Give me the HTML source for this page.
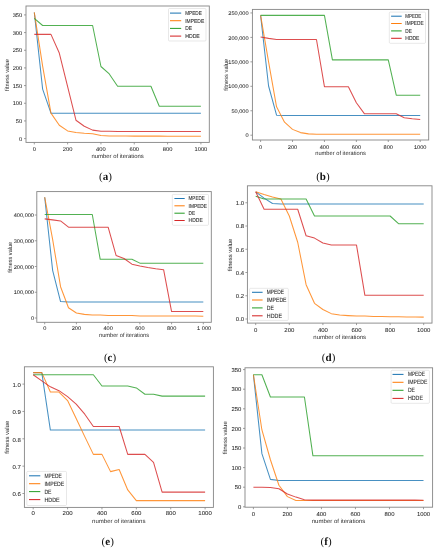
<!DOCTYPE html>
<html><head><meta charset="utf-8"><style>
html,body{margin:0;padding:0;background:#fff;}
body{width:436px;height:550px;overflow:hidden;}
svg{display:block;text-rendering:geometricPrecision;will-change:transform;filter:blur(0.35px);}
.t{font-family:"Liberation Sans",sans-serif;font-size:5.5px;fill:#2b2b2b;stroke:#2b2b2b;stroke-width:0.06px;}
.l{font-family:"Liberation Sans",sans-serif;font-size:5.9px;fill:#2b2b2b;}
.g{font-family:"Liberation Sans",sans-serif;font-size:5.9px;fill:#2b2b2b;stroke:#2b2b2b;stroke-width:0.08px;}
.c{font-family:"Liberation Serif",serif;font-size:11px;fill:#111;}
</style></head><body>
<svg width="436" height="550" viewBox="0 0 436 550">
<rect width="436" height="550" fill="#fff"/>
<g><clipPath id="clipa"><rect x="26" y="6" width="183.3" height="136.4"/></clipPath><polyline clip-path="url(#clipa)" points="34.3,12.44 42.63,89.12 50.96,113.16 200.9,113.16" fill="none" stroke="#1f77b4" stroke-width="1.05" stroke-linejoin="round" stroke-linecap="butt" stroke-opacity="0.82"/><polyline clip-path="url(#clipa)" points="34.3,12.44 42.63,66.15 50.96,113.16 59.29,125.31 67.62,130.9 75.95,132.59 84.28,133.3 92.61,133.65 100.94,135.6 109.27,135.95 117.6,136.06 125.93,136.06 134.26,136.13 159.25,136.13 167.58,136.27 192.57,136.27 200.9,136.3" fill="none" stroke="#ff7f0e" stroke-width="1.05" stroke-linejoin="round" stroke-linecap="butt" stroke-opacity="0.82"/><polyline clip-path="url(#clipa)" points="34.3,18.44 42.63,25.51 92.61,25.51 100.94,66.51 109.27,73.93 117.6,86.3 150.92,86.3 159.25,106.26 200.9,106.26" fill="none" stroke="#2ca02c" stroke-width="1.05" stroke-linejoin="round" stroke-linecap="butt" stroke-opacity="0.82"/><polyline clip-path="url(#clipa)" points="34.3,34.35 50.96,34.35 59.29,53.08 67.62,86.65 75.95,120.22 84.28,126.23 92.61,130.12 100.94,131.32 109.27,131.32 117.6,131.53 200.9,131.53" fill="none" stroke="#d62728" stroke-width="1.05" stroke-linejoin="round" stroke-linecap="butt" stroke-opacity="0.82"/><rect x="26" y="6" width="183.3" height="136.4" fill="none" stroke="#858585" stroke-width="0.9"/><line x1="24" y1="138.6" x2="26" y2="138.6" stroke="#858585" stroke-width="0.8"/><text transform="translate(22.3,140.8) scale(1.05,1)" text-anchor="end" class="t">0</text><line x1="24" y1="120.93" x2="26" y2="120.93" stroke="#858585" stroke-width="0.8"/><text transform="translate(22.3,123.13) scale(1.05,1)" text-anchor="end" class="t">50</text><line x1="24" y1="103.26" x2="26" y2="103.26" stroke="#858585" stroke-width="0.8"/><text transform="translate(22.3,105.46) scale(1.05,1)" text-anchor="end" class="t">100</text><line x1="24" y1="85.59" x2="26" y2="85.59" stroke="#858585" stroke-width="0.8"/><text transform="translate(22.3,87.79) scale(1.05,1)" text-anchor="end" class="t">150</text><line x1="24" y1="67.92" x2="26" y2="67.92" stroke="#858585" stroke-width="0.8"/><text transform="translate(22.3,70.12) scale(1.05,1)" text-anchor="end" class="t">200</text><line x1="24" y1="50.25" x2="26" y2="50.25" stroke="#858585" stroke-width="0.8"/><text transform="translate(22.3,52.45) scale(1.05,1)" text-anchor="end" class="t">250</text><line x1="24" y1="32.58" x2="26" y2="32.58" stroke="#858585" stroke-width="0.8"/><text transform="translate(22.3,34.78) scale(1.05,1)" text-anchor="end" class="t">300</text><line x1="24" y1="14.91" x2="26" y2="14.91" stroke="#858585" stroke-width="0.8"/><text transform="translate(22.3,17.11) scale(1.05,1)" text-anchor="end" class="t">350</text><line x1="34.3" y1="142.4" x2="34.3" y2="144.4" stroke="#858585" stroke-width="0.8"/><text transform="translate(34.3,150.9) scale(1.05,1)" text-anchor="middle" class="t">0</text><line x1="67.62" y1="142.4" x2="67.62" y2="144.4" stroke="#858585" stroke-width="0.8"/><text transform="translate(67.62,150.9) scale(1.05,1)" text-anchor="middle" class="t">200</text><line x1="100.94" y1="142.4" x2="100.94" y2="144.4" stroke="#858585" stroke-width="0.8"/><text transform="translate(100.94,150.9) scale(1.05,1)" text-anchor="middle" class="t">400</text><line x1="134.26" y1="142.4" x2="134.26" y2="144.4" stroke="#858585" stroke-width="0.8"/><text transform="translate(134.26,150.9) scale(1.05,1)" text-anchor="middle" class="t">600</text><line x1="167.58" y1="142.4" x2="167.58" y2="144.4" stroke="#858585" stroke-width="0.8"/><text transform="translate(167.58,150.9) scale(1.05,1)" text-anchor="middle" class="t">800</text><line x1="200.9" y1="142.4" x2="200.9" y2="144.4" stroke="#858585" stroke-width="0.8"/><text transform="translate(200.9,150.9) scale(1.05,1)" text-anchor="middle" class="t">1000</text><text x="117.6" y="158.2" text-anchor="middle" class="l" textLength="52.3" lengthAdjust="spacingAndGlyphs">number of iterations</text><text transform="translate(9.3,75) rotate(-90)" x="0" y="0" text-anchor="middle" class="l" textLength="32.0" lengthAdjust="spacingAndGlyphs">fitness value</text><rect x="168.5" y="8.5" width="37.5" height="32.5" rx="1" fill="#fff" fill-opacity="0.8" stroke="#d8d8d8" stroke-width="0.6"/><line x1="170" y1="13.1" x2="181.2" y2="13.1" stroke="#1f77b4" stroke-width="1.05"/><text x="185.2" y="15.1" class="g" style="font-size:5.9px" textLength="16.6" lengthAdjust="spacingAndGlyphs">MPEDE</text><line x1="170" y1="20.7" x2="181.2" y2="20.7" stroke="#ff7f0e" stroke-width="1.05"/><text x="185.2" y="22.7" class="g" style="font-size:5.9px" textLength="19" lengthAdjust="spacingAndGlyphs">IMPEDE</text><line x1="170" y1="28.4" x2="181.2" y2="28.4" stroke="#2ca02c" stroke-width="1.05"/><text x="185.2" y="30.4" class="g" style="font-size:5.9px" textLength="6.8" lengthAdjust="spacingAndGlyphs">DE</text><line x1="170" y1="36.1" x2="181.2" y2="36.1" stroke="#d62728" stroke-width="1.05"/><text x="185.2" y="38.1" class="g" style="font-size:5.9px" textLength="14.6" lengthAdjust="spacingAndGlyphs">HDDE</text><text x="105.5" y="179.8" text-anchor="middle" class="c">(<tspan font-weight="bold">a</tspan>)</text></g>
<g><clipPath id="clipb"><rect x="252.4" y="9.4" width="176.3" height="130.6"/></clipPath><polyline clip-path="url(#clipb)" points="260.6,15.39 268.58,86.01 276.56,115.15 284.54,115.4 420.2,115.4" fill="none" stroke="#1f77b4" stroke-width="1.05" stroke-linejoin="round" stroke-linecap="butt" stroke-opacity="0.82"/><polyline clip-path="url(#clipb)" points="260.6,15.39 268.58,61.85 276.56,106.84 284.54,122.19 292.52,129.38 300.5,132.61 308.48,133.88 316.46,134.22 332.42,134.22 340.4,134.27 412.22,134.27 420.2,134.32" fill="none" stroke="#ff7f0e" stroke-width="1.05" stroke-linejoin="round" stroke-linecap="butt" stroke-opacity="0.82"/><polyline clip-path="url(#clipb)" points="260.6,15.39 324.44,15.39 332.42,59.89 388.28,59.89 396.26,95.2 420.2,95.2" fill="none" stroke="#2ca02c" stroke-width="1.05" stroke-linejoin="round" stroke-linecap="butt" stroke-opacity="0.82"/><polyline clip-path="url(#clipb)" points="260.6,37.01 268.58,38.38 276.56,39.5 316.46,39.5 324.44,86.69 348.38,86.69 356.36,102.78 364.34,113.68 396.26,113.68 404.24,117.79 412.22,118.82 420.2,119.41" fill="none" stroke="#d62728" stroke-width="1.05" stroke-linejoin="round" stroke-linecap="butt" stroke-opacity="0.82"/><rect x="252.4" y="9.4" width="176.3" height="130.6" fill="none" stroke="#858585" stroke-width="0.9"/><line x1="250.4" y1="135.2" x2="252.4" y2="135.2" stroke="#858585" stroke-width="0.8"/><text transform="translate(248.6,137.34) scale(1.02,0.97)" text-anchor="end" class="t">0</text><line x1="250.4" y1="110.75" x2="252.4" y2="110.75" stroke="#858585" stroke-width="0.8"/><text transform="translate(248.6,112.89) scale(1.02,0.97)" text-anchor="end" class="t">50,000</text><line x1="250.4" y1="86.3" x2="252.4" y2="86.3" stroke="#858585" stroke-width="0.8"/><text transform="translate(248.6,88.44) scale(1.02,0.97)" text-anchor="end" class="t">100,000</text><line x1="250.4" y1="61.85" x2="252.4" y2="61.85" stroke="#858585" stroke-width="0.8"/><text transform="translate(248.6,63.99) scale(1.02,0.97)" text-anchor="end" class="t">150,000</text><line x1="250.4" y1="37.4" x2="252.4" y2="37.4" stroke="#858585" stroke-width="0.8"/><text transform="translate(248.6,39.54) scale(1.02,0.97)" text-anchor="end" class="t">200,000</text><line x1="250.4" y1="12.95" x2="252.4" y2="12.95" stroke="#858585" stroke-width="0.8"/><text transform="translate(248.6,15.09) scale(1.02,0.97)" text-anchor="end" class="t">250,000</text><line x1="260.6" y1="140" x2="260.6" y2="142" stroke="#858585" stroke-width="0.8"/><text transform="translate(260.6,148.8) scale(1.02,0.97)" text-anchor="middle" class="t">0</text><line x1="292.52" y1="140" x2="292.52" y2="142" stroke="#858585" stroke-width="0.8"/><text transform="translate(292.52,148.8) scale(1.02,0.97)" text-anchor="middle" class="t">200</text><line x1="324.44" y1="140" x2="324.44" y2="142" stroke="#858585" stroke-width="0.8"/><text transform="translate(324.44,148.8) scale(1.02,0.97)" text-anchor="middle" class="t">400</text><line x1="356.36" y1="140" x2="356.36" y2="142" stroke="#858585" stroke-width="0.8"/><text transform="translate(356.36,148.8) scale(1.02,0.97)" text-anchor="middle" class="t">600</text><line x1="388.28" y1="140" x2="388.28" y2="142" stroke="#858585" stroke-width="0.8"/><text transform="translate(388.28,148.8) scale(1.02,0.97)" text-anchor="middle" class="t">800</text><line x1="420.2" y1="140" x2="420.2" y2="142" stroke="#858585" stroke-width="0.8"/><text transform="translate(420.2,148.8) scale(1.02,0.97)" text-anchor="middle" class="t">1000</text><text x="340.5" y="155.2" text-anchor="middle" class="l" textLength="50.5" lengthAdjust="spacingAndGlyphs">number of iterations</text><text transform="translate(227.6,74.7) rotate(-90)" x="0" y="0" text-anchor="middle" class="l" textLength="32.0" lengthAdjust="spacingAndGlyphs">fitness value</text><rect x="389.3" y="12.1" width="36.2" height="31.2" rx="1" fill="#fff" fill-opacity="0.8" stroke="#d8d8d8" stroke-width="0.6"/><line x1="391.1" y1="16.2" x2="401.7" y2="16.2" stroke="#1f77b4" stroke-width="1.05"/><text x="405.3" y="18.14" class="g" style="font-size:5.72px" textLength="16.1" lengthAdjust="spacingAndGlyphs">MPEDE</text><line x1="391.1" y1="23.5" x2="401.7" y2="23.5" stroke="#ff7f0e" stroke-width="1.05"/><text x="405.3" y="25.44" class="g" style="font-size:5.72px" textLength="18.43" lengthAdjust="spacingAndGlyphs">IMPEDE</text><line x1="391.1" y1="30.9" x2="401.7" y2="30.9" stroke="#2ca02c" stroke-width="1.05"/><text x="405.3" y="32.84" class="g" style="font-size:5.72px" textLength="6.6" lengthAdjust="spacingAndGlyphs">DE</text><line x1="391.1" y1="38.3" x2="401.7" y2="38.3" stroke="#d62728" stroke-width="1.05"/><text x="405.3" y="40.24" class="g" style="font-size:5.72px" textLength="14.16" lengthAdjust="spacingAndGlyphs">HDDE</text><text x="322.9" y="179.6" text-anchor="middle" class="c">(<tspan font-weight="bold">b</tspan>)</text></g>
<g><clipPath id="clipc"><rect x="36.8" y="191.6" width="174.5" height="130.7"/></clipPath><polyline clip-path="url(#clipc)" points="44.7,197.23 52.63,270.36 60.56,301.6 68.49,302.04 203.3,302.04" fill="none" stroke="#1f77b4" stroke-width="1.05" stroke-linejoin="round" stroke-linecap="butt" stroke-opacity="0.82"/><polyline clip-path="url(#clipc)" points="44.7,197.23 52.63,239.46 60.56,286.71 68.49,307.8 76.42,313 84.35,314.39 92.28,314.91 100.21,314.91 108.14,315.55 131.93,315.55 139.86,315.94 195.37,315.94 203.3,316.2" fill="none" stroke="#ff7f0e" stroke-width="1.05" stroke-linejoin="round" stroke-linecap="butt" stroke-opacity="0.82"/><polyline clip-path="url(#clipc)" points="44.7,214.48 92.28,214.48 100.21,259.29 131.93,259.29 139.86,263.15 203.3,263.15" fill="none" stroke="#2ca02c" stroke-width="1.05" stroke-linejoin="round" stroke-linecap="butt" stroke-opacity="0.82"/><polyline clip-path="url(#clipc)" points="44.7,218.86 52.63,219.89 60.56,220.92 68.49,227.21 108.14,227.21 116.07,255.43 124,258.52 131.93,264.18 139.86,265.99 147.79,267.53 155.72,268.82 163.65,269.85 171.58,311.56 203.3,311.56" fill="none" stroke="#d62728" stroke-width="1.05" stroke-linejoin="round" stroke-linecap="butt" stroke-opacity="0.82"/><rect x="36.8" y="191.6" width="174.5" height="130.7" fill="none" stroke="#858585" stroke-width="0.9"/><line x1="34.8" y1="318" x2="36.8" y2="318" stroke="#858585" stroke-width="0.8"/><text transform="translate(34,320.14) scale(1.02,0.97)" text-anchor="end" class="t">0</text><line x1="34.8" y1="292.25" x2="36.8" y2="292.25" stroke="#858585" stroke-width="0.8"/><text transform="translate(34,294.39) scale(1.02,0.97)" text-anchor="end" class="t">100,000</text><line x1="34.8" y1="266.5" x2="36.8" y2="266.5" stroke="#858585" stroke-width="0.8"/><text transform="translate(34,268.64) scale(1.02,0.97)" text-anchor="end" class="t">200,000</text><line x1="34.8" y1="240.75" x2="36.8" y2="240.75" stroke="#858585" stroke-width="0.8"/><text transform="translate(34,242.89) scale(1.02,0.97)" text-anchor="end" class="t">300,000</text><line x1="34.8" y1="215" x2="36.8" y2="215" stroke="#858585" stroke-width="0.8"/><text transform="translate(34,217.14) scale(1.02,0.97)" text-anchor="end" class="t">400,000</text><line x1="44.7" y1="322.3" x2="44.7" y2="324.3" stroke="#858585" stroke-width="0.8"/><text transform="translate(44.7,329.6) scale(1.02,0.97)" text-anchor="middle" class="t">0</text><line x1="76.42" y1="322.3" x2="76.42" y2="324.3" stroke="#858585" stroke-width="0.8"/><text transform="translate(76.42,329.6) scale(1.02,0.97)" text-anchor="middle" class="t">200</text><line x1="108.14" y1="322.3" x2="108.14" y2="324.3" stroke="#858585" stroke-width="0.8"/><text transform="translate(108.14,329.6) scale(1.02,0.97)" text-anchor="middle" class="t">400</text><line x1="139.86" y1="322.3" x2="139.86" y2="324.3" stroke="#858585" stroke-width="0.8"/><text transform="translate(139.86,329.6) scale(1.02,0.97)" text-anchor="middle" class="t">600</text><line x1="171.58" y1="322.3" x2="171.58" y2="324.3" stroke="#858585" stroke-width="0.8"/><text transform="translate(171.58,329.6) scale(1.02,0.97)" text-anchor="middle" class="t">800</text><line x1="203.3" y1="322.3" x2="203.3" y2="324.3" stroke="#858585" stroke-width="0.8"/><text transform="translate(204.1,329.6) scale(1.02,0.97)" text-anchor="middle" class="t">1 000</text><text x="124" y="337.3" text-anchor="middle" class="l" textLength="50.0" lengthAdjust="spacingAndGlyphs">number of iterations</text><text transform="translate(12,257.3) rotate(-90)" x="0" y="0" text-anchor="middle" class="l" textLength="30.8" lengthAdjust="spacingAndGlyphs">fitness value</text><rect x="172.3" y="194.4" width="36.2" height="30.9" rx="1" fill="#fff" fill-opacity="0.8" stroke="#d8d8d8" stroke-width="0.6"/><line x1="174.4" y1="198.5" x2="184.7" y2="198.5" stroke="#1f77b4" stroke-width="1.05"/><text x="188.6" y="200.44" class="g" style="font-size:5.72px" textLength="16.1" lengthAdjust="spacingAndGlyphs">MPEDE</text><line x1="174.4" y1="205.8" x2="184.7" y2="205.8" stroke="#ff7f0e" stroke-width="1.05"/><text x="188.6" y="207.74" class="g" style="font-size:5.72px" textLength="18.43" lengthAdjust="spacingAndGlyphs">IMPEDE</text><line x1="174.4" y1="213.2" x2="184.7" y2="213.2" stroke="#2ca02c" stroke-width="1.05"/><text x="188.6" y="215.14" class="g" style="font-size:5.72px" textLength="6.6" lengthAdjust="spacingAndGlyphs">DE</text><line x1="174.4" y1="220.5" x2="184.7" y2="220.5" stroke="#d62728" stroke-width="1.05"/><text x="188.6" y="222.44" class="g" style="font-size:5.72px" textLength="14.16" lengthAdjust="spacingAndGlyphs">HDDE</text><text x="110" y="360.6" text-anchor="middle" class="c">(<tspan font-weight="bold">c</tspan>)</text></g>
<g><clipPath id="clipd"><rect x="247.4" y="185.8" width="184.6" height="137.3"/></clipPath><polyline clip-path="url(#clipd)" points="255.7,191.82 264.1,198.1 272.5,203.56 280.9,203.91 423.7,203.91" fill="none" stroke="#1f77b4" stroke-width="1.05" stroke-linejoin="round" stroke-linecap="butt" stroke-opacity="0.82"/><polyline clip-path="url(#clipd)" points="255.7,191.82 264.1,194.61 272.5,196.94 280.9,199.03 289.3,216 297.7,242.27 306.1,284.71 314.5,303.31 322.9,309.47 331.3,313.65 339.7,315.05 348.1,315.63 356.5,316.09 364.9,316.09 373.3,316.44 381.7,316.44 390.1,316.68 398.5,316.68 406.9,317.02 415.3,317.02 423.7,317.14" fill="none" stroke="#ff7f0e" stroke-width="1.05" stroke-linejoin="round" stroke-linecap="butt" stroke-opacity="0.82"/><polyline clip-path="url(#clipd)" points="255.7,196.36 264.1,199.03 306.1,199.03 314.5,216 390.1,216 398.5,223.68 423.7,223.68" fill="none" stroke="#2ca02c" stroke-width="1.05" stroke-linejoin="round" stroke-linecap="butt" stroke-opacity="0.82"/><polyline clip-path="url(#clipd)" points="255.7,191.82 264.1,209.26 297.7,209.26 306.1,235.76 314.5,238.09 322.9,242.97 331.3,245.06 356.5,245.06 364.9,295.29 423.7,295.29" fill="none" stroke="#d62728" stroke-width="1.05" stroke-linejoin="round" stroke-linecap="butt" stroke-opacity="0.82"/><rect x="247.4" y="185.8" width="184.6" height="137.3" fill="none" stroke="#858585" stroke-width="0.9"/><line x1="245.4" y1="319" x2="247.4" y2="319" stroke="#858585" stroke-width="0.8"/><text transform="translate(244.2,321.28) scale(1.09,1.04)" text-anchor="end" class="t">0.0</text><line x1="245.4" y1="295.75" x2="247.4" y2="295.75" stroke="#858585" stroke-width="0.8"/><text transform="translate(244.2,298.03) scale(1.09,1.04)" text-anchor="end" class="t">0.2</text><line x1="245.4" y1="272.5" x2="247.4" y2="272.5" stroke="#858585" stroke-width="0.8"/><text transform="translate(244.2,274.78) scale(1.09,1.04)" text-anchor="end" class="t">0.4</text><line x1="245.4" y1="249.25" x2="247.4" y2="249.25" stroke="#858585" stroke-width="0.8"/><text transform="translate(244.2,251.53) scale(1.09,1.04)" text-anchor="end" class="t">0.6</text><line x1="245.4" y1="226" x2="247.4" y2="226" stroke="#858585" stroke-width="0.8"/><text transform="translate(244.2,228.28) scale(1.09,1.04)" text-anchor="end" class="t">0.8</text><line x1="245.4" y1="202.75" x2="247.4" y2="202.75" stroke="#858585" stroke-width="0.8"/><text transform="translate(244.2,205.03) scale(1.09,1.04)" text-anchor="end" class="t">1.0</text><line x1="255.7" y1="323.1" x2="255.7" y2="325.1" stroke="#858585" stroke-width="0.8"/><text transform="translate(255.7,331.8) scale(1.09,1.04)" text-anchor="middle" class="t">0</text><line x1="289.3" y1="323.1" x2="289.3" y2="325.1" stroke="#858585" stroke-width="0.8"/><text transform="translate(289.3,331.8) scale(1.09,1.04)" text-anchor="middle" class="t">200</text><line x1="322.9" y1="323.1" x2="322.9" y2="325.1" stroke="#858585" stroke-width="0.8"/><text transform="translate(322.9,331.8) scale(1.09,1.04)" text-anchor="middle" class="t">400</text><line x1="356.5" y1="323.1" x2="356.5" y2="325.1" stroke="#858585" stroke-width="0.8"/><text transform="translate(356.5,331.8) scale(1.09,1.04)" text-anchor="middle" class="t">600</text><line x1="390.1" y1="323.1" x2="390.1" y2="325.1" stroke="#858585" stroke-width="0.8"/><text transform="translate(390.1,331.8) scale(1.09,1.04)" text-anchor="middle" class="t">800</text><line x1="423.7" y1="323.1" x2="423.7" y2="325.1" stroke="#858585" stroke-width="0.8"/><text transform="translate(423.7,331.8) scale(1.09,1.04)" text-anchor="middle" class="t">1000</text><text x="339.7" y="338.6" text-anchor="middle" class="l" textLength="52.7" lengthAdjust="spacingAndGlyphs">number of iterations</text><text transform="translate(232.3,255) rotate(-90)" x="0" y="0" text-anchor="middle" class="l" textLength="32.7" lengthAdjust="spacingAndGlyphs">fitness value</text><rect x="249.6" y="288.3" width="38.7" height="32.1" rx="1" fill="#fff" fill-opacity="0.8" stroke="#d8d8d8" stroke-width="0.6"/><line x1="252" y1="292.3" x2="262.6" y2="292.3" stroke="#1f77b4" stroke-width="1.05"/><text x="266.8" y="294.38" class="g" style="font-size:6.14px" textLength="17.26" lengthAdjust="spacingAndGlyphs">MPEDE</text><line x1="252" y1="300" x2="262.6" y2="300" stroke="#ff7f0e" stroke-width="1.05"/><text x="266.8" y="302.08" class="g" style="font-size:6.14px" textLength="19.76" lengthAdjust="spacingAndGlyphs">IMPEDE</text><line x1="252" y1="307.9" x2="262.6" y2="307.9" stroke="#2ca02c" stroke-width="1.05"/><text x="266.8" y="309.98" class="g" style="font-size:6.14px" textLength="7.07" lengthAdjust="spacingAndGlyphs">DE</text><line x1="252" y1="315.8" x2="262.6" y2="315.8" stroke="#d62728" stroke-width="1.05"/><text x="266.8" y="317.88" class="g" style="font-size:6.14px" textLength="15.18" lengthAdjust="spacingAndGlyphs">HDDE</text><text x="328.6" y="360.5" text-anchor="middle" class="c">(<tspan font-weight="bold">d</tspan>)</text></g>
<g><clipPath id="clipe"><rect x="24.4" y="366.8" width="189" height="140.6"/></clipPath><polyline clip-path="url(#clipe)" points="33.2,372.61 41.8,372.61 50.39,430.05 205.1,430.05" fill="none" stroke="#1f77b4" stroke-width="1.05" stroke-linejoin="round" stroke-linecap="butt" stroke-opacity="0.82"/><polyline clip-path="url(#clipe)" points="33.2,372.61 41.8,372.61 50.39,392.03 58.98,392.03 67.58,400.51 76.18,418.56 84.77,436.61 93.37,454.39 101.96,454.39 110.56,471.62 119.15,469.43 127.75,489.94 136.34,500.61 205.1,500.61" fill="none" stroke="#ff7f0e" stroke-width="1.05" stroke-linejoin="round" stroke-linecap="butt" stroke-opacity="0.82"/><polyline clip-path="url(#clipe)" points="33.2,374.8 93.37,374.8 101.96,386.01 127.75,386.01 136.34,387.93 144.94,394.22 153.53,394.22 162.12,396.13 205.1,396.13" fill="none" stroke="#2ca02c" stroke-width="1.05" stroke-linejoin="round" stroke-linecap="butt" stroke-opacity="0.82"/><polyline clip-path="url(#clipe)" points="33.2,374.8 41.8,380.82 50.39,386.84 58.98,390.66 67.58,396.68 76.18,404.07 84.77,414.19 93.37,426.49 119.15,426.49 127.75,454.39 144.94,454.39 153.53,462.32 162.12,492.13 205.1,492.13" fill="none" stroke="#d62728" stroke-width="1.05" stroke-linejoin="round" stroke-linecap="butt" stroke-opacity="0.82"/><rect x="24.4" y="366.8" width="189" height="140.6" fill="none" stroke="#858585" stroke-width="0.9"/><line x1="22.4" y1="493.5" x2="24.4" y2="493.5" stroke="#858585" stroke-width="0.8"/><text transform="translate(20.8,496.19) scale(1.1,1.05)" text-anchor="end" class="t">0.6</text><line x1="22.4" y1="466.15" x2="24.4" y2="466.15" stroke="#858585" stroke-width="0.8"/><text transform="translate(20.8,468.85) scale(1.1,1.05)" text-anchor="end" class="t">0.7</text><line x1="22.4" y1="438.8" x2="24.4" y2="438.8" stroke="#858585" stroke-width="0.8"/><text transform="translate(20.8,441.5) scale(1.1,1.05)" text-anchor="end" class="t">0.8</text><line x1="22.4" y1="411.45" x2="24.4" y2="411.45" stroke="#858585" stroke-width="0.8"/><text transform="translate(20.8,414.15) scale(1.1,1.05)" text-anchor="end" class="t">0.9</text><line x1="22.4" y1="384.1" x2="24.4" y2="384.1" stroke="#858585" stroke-width="0.8"/><text transform="translate(20.8,386.8) scale(1.1,1.05)" text-anchor="end" class="t">1.0</text><line x1="33.2" y1="507.4" x2="33.2" y2="509.4" stroke="#858585" stroke-width="0.8"/><text transform="translate(33.2,515.3) scale(1.1,1.05)" text-anchor="middle" class="t">0</text><line x1="67.58" y1="507.4" x2="67.58" y2="509.4" stroke="#858585" stroke-width="0.8"/><text transform="translate(67.58,515.3) scale(1.1,1.05)" text-anchor="middle" class="t">200</text><line x1="101.96" y1="507.4" x2="101.96" y2="509.4" stroke="#858585" stroke-width="0.8"/><text transform="translate(101.96,515.3) scale(1.1,1.05)" text-anchor="middle" class="t">400</text><line x1="136.34" y1="507.4" x2="136.34" y2="509.4" stroke="#858585" stroke-width="0.8"/><text transform="translate(136.34,515.3) scale(1.1,1.05)" text-anchor="middle" class="t">600</text><line x1="170.72" y1="507.4" x2="170.72" y2="509.4" stroke="#858585" stroke-width="0.8"/><text transform="translate(170.72,515.3) scale(1.1,1.05)" text-anchor="middle" class="t">800</text><line x1="205.1" y1="507.4" x2="205.1" y2="509.4" stroke="#858585" stroke-width="0.8"/><text transform="translate(205.1,515.3) scale(1.1,1.05)" text-anchor="middle" class="t">1000</text><text x="118.8" y="523.4" text-anchor="middle" class="l" textLength="53.4" lengthAdjust="spacingAndGlyphs">number of iterations</text><text transform="translate(8.8,437.3) rotate(-90)" x="0" y="0" text-anchor="middle" class="l" textLength="33.1" lengthAdjust="spacingAndGlyphs">fitness value</text><rect x="26.8" y="471.4" width="39.7" height="34.1" rx="1" fill="#fff" fill-opacity="0.8" stroke="#d8d8d8" stroke-width="0.6"/><line x1="29" y1="475.8" x2="40.3" y2="475.8" stroke="#1f77b4" stroke-width="1.05"/><text x="44.4" y="477.9" class="g" style="font-size:6.2px" textLength="17.43" lengthAdjust="spacingAndGlyphs">MPEDE</text><line x1="29" y1="483.7" x2="40.3" y2="483.7" stroke="#ff7f0e" stroke-width="1.05"/><text x="44.4" y="485.8" class="g" style="font-size:6.2px" textLength="19.95" lengthAdjust="spacingAndGlyphs">IMPEDE</text><line x1="29" y1="491.6" x2="40.3" y2="491.6" stroke="#2ca02c" stroke-width="1.05"/><text x="44.4" y="493.7" class="g" style="font-size:6.2px" textLength="7.14" lengthAdjust="spacingAndGlyphs">DE</text><line x1="29" y1="499.6" x2="40.3" y2="499.6" stroke="#d62728" stroke-width="1.05"/><text x="44.4" y="501.7" class="g" style="font-size:6.2px" textLength="15.33" lengthAdjust="spacingAndGlyphs">HDDE</text><text x="107.7" y="544.8" text-anchor="middle" class="c">(<tspan font-weight="bold">e</tspan>)</text></g>
<g><clipPath id="clipf"><rect x="245" y="367.8" width="187.6" height="139.4"/></clipPath><polyline clip-path="url(#clipf)" points="253.4,374.7 261.91,453.68 270.41,479.36 278.92,480.54 423.5,480.54" fill="none" stroke="#1f77b4" stroke-width="1.05" stroke-linejoin="round" stroke-linecap="butt" stroke-opacity="0.82"/><polyline clip-path="url(#clipf)" points="253.4,374.7 261.91,429.97 270.41,459.76 278.92,485.24 287.42,496.61 295.93,500.53 423.5,500.53" fill="none" stroke="#ff7f0e" stroke-width="1.05" stroke-linejoin="round" stroke-linecap="butt" stroke-opacity="0.82"/><polyline clip-path="url(#clipf)" points="253.4,374.7 261.91,374.7 270.41,397.04 304.43,397.04 312.94,455.84 423.5,455.84" fill="none" stroke="#2ca02c" stroke-width="1.05" stroke-linejoin="round" stroke-linecap="butt" stroke-opacity="0.82"/><polyline clip-path="url(#clipf)" points="253.4,487.2 261.91,487.2 270.41,487.4 278.92,488.77 287.42,494.02 295.93,497.12 304.43,499.74 312.94,500.14 415,500.14 423.5,500.33" fill="none" stroke="#d62728" stroke-width="1.05" stroke-linejoin="round" stroke-linecap="butt" stroke-opacity="0.82"/><rect x="245" y="367.8" width="187.6" height="139.4" fill="none" stroke="#858585" stroke-width="0.9"/><line x1="243" y1="506.8" x2="245" y2="506.8" stroke="#858585" stroke-width="0.8"/><text transform="translate(241.3,509.06) scale(1.08,1.03)" text-anchor="end" class="t">0</text><line x1="243" y1="487.2" x2="245" y2="487.2" stroke="#858585" stroke-width="0.8"/><text transform="translate(241.3,489.46) scale(1.08,1.03)" text-anchor="end" class="t">50</text><line x1="243" y1="467.6" x2="245" y2="467.6" stroke="#858585" stroke-width="0.8"/><text transform="translate(241.3,469.86) scale(1.08,1.03)" text-anchor="end" class="t">100</text><line x1="243" y1="448" x2="245" y2="448" stroke="#858585" stroke-width="0.8"/><text transform="translate(241.3,450.26) scale(1.08,1.03)" text-anchor="end" class="t">150</text><line x1="243" y1="428.4" x2="245" y2="428.4" stroke="#858585" stroke-width="0.8"/><text transform="translate(241.3,430.66) scale(1.08,1.03)" text-anchor="end" class="t">200</text><line x1="243" y1="408.8" x2="245" y2="408.8" stroke="#858585" stroke-width="0.8"/><text transform="translate(241.3,411.06) scale(1.08,1.03)" text-anchor="end" class="t">250</text><line x1="243" y1="389.2" x2="245" y2="389.2" stroke="#858585" stroke-width="0.8"/><text transform="translate(241.3,391.46) scale(1.08,1.03)" text-anchor="end" class="t">300</text><line x1="243" y1="369.6" x2="245" y2="369.6" stroke="#858585" stroke-width="0.8"/><text transform="translate(241.3,371.86) scale(1.08,1.03)" text-anchor="end" class="t">350</text><line x1="253.4" y1="507.2" x2="253.4" y2="509.2" stroke="#858585" stroke-width="0.8"/><text transform="translate(253.4,515.5) scale(1.08,1.03)" text-anchor="middle" class="t">0</text><line x1="287.42" y1="507.2" x2="287.42" y2="509.2" stroke="#858585" stroke-width="0.8"/><text transform="translate(287.42,515.5) scale(1.08,1.03)" text-anchor="middle" class="t">200</text><line x1="321.44" y1="507.2" x2="321.44" y2="509.2" stroke="#858585" stroke-width="0.8"/><text transform="translate(321.44,515.5) scale(1.08,1.03)" text-anchor="middle" class="t">400</text><line x1="355.46" y1="507.2" x2="355.46" y2="509.2" stroke="#858585" stroke-width="0.8"/><text transform="translate(355.46,515.5) scale(1.08,1.03)" text-anchor="middle" class="t">600</text><line x1="389.48" y1="507.2" x2="389.48" y2="509.2" stroke="#858585" stroke-width="0.8"/><text transform="translate(389.48,515.5) scale(1.08,1.03)" text-anchor="middle" class="t">800</text><line x1="423.5" y1="507.2" x2="423.5" y2="509.2" stroke="#858585" stroke-width="0.8"/><text transform="translate(423.5,515.5) scale(1.08,1.03)" text-anchor="middle" class="t">1000</text><text x="338.5" y="522.5" text-anchor="middle" class="l" textLength="53.5" lengthAdjust="spacingAndGlyphs">number of iterations</text><text transform="translate(227.4,437.8) rotate(-90)" x="0" y="0" text-anchor="middle" class="l" textLength="33.1" lengthAdjust="spacingAndGlyphs">fitness value</text><rect x="391.1" y="370.3" width="38.3" height="33" rx="1" fill="#fff" fill-opacity="0.8" stroke="#d8d8d8" stroke-width="0.6"/><line x1="392.5" y1="374.4" x2="403.5" y2="374.4" stroke="#1f77b4" stroke-width="1.05"/><text x="407.9" y="376.46" class="g" style="font-size:6.08px" textLength="17.1" lengthAdjust="spacingAndGlyphs">MPEDE</text><line x1="392.5" y1="382.3" x2="403.5" y2="382.3" stroke="#ff7f0e" stroke-width="1.05"/><text x="407.9" y="384.36" class="g" style="font-size:6.08px" textLength="19.57" lengthAdjust="spacingAndGlyphs">IMPEDE</text><line x1="392.5" y1="390.3" x2="403.5" y2="390.3" stroke="#2ca02c" stroke-width="1.05"/><text x="407.9" y="392.36" class="g" style="font-size:6.08px" textLength="7" lengthAdjust="spacingAndGlyphs">DE</text><line x1="392.5" y1="398.4" x2="403.5" y2="398.4" stroke="#d62728" stroke-width="1.05"/><text x="407.9" y="400.46" class="g" style="font-size:6.08px" textLength="15.04" lengthAdjust="spacingAndGlyphs">HDDE</text><text x="326.1" y="545.3" text-anchor="middle" class="c">(<tspan font-weight="bold">f</tspan>)</text></g>
</svg>
</body></html>
